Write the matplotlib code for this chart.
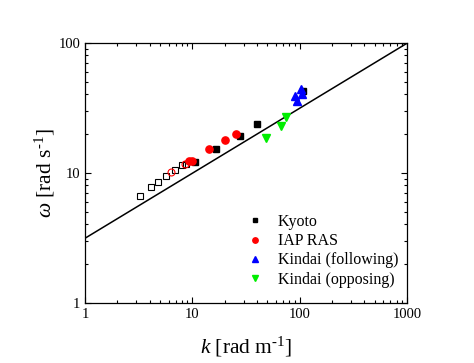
import numpy as np
import matplotlib
matplotlib.use("Agg")
import matplotlib.pyplot as plt
from matplotlib.ticker import LogLocator, NullFormatter

plt.rcParams['font.family'] = ['Liberation Serif', 'DejaVu Serif']
plt.rcParams['mathtext.fontset'] = 'custom'
plt.rcParams['mathtext.rm'] = 'Liberation Serif'
plt.rcParams['mathtext.it'] = 'Liberation Serif:italic'

# Data
kyoto_open_k = [3.26, 4.12, 4.79, 5.72, 6.83, 8.02, 8.74]
kyoto_open_w = [6.62, 7.72, 8.53, 9.43, 10.49, 11.40, 11.60]
iap_open_k = [6.33, 8.55]
iap_open_w = [10.12, 11.60]
kyoto_k = [10.6, 16.6, 27.8, 39.8, 106.4]
kyoto_w = [12.09, 15.27, 19.1, 23.8, 42.5]
iap_k = [9.32, 9.94, 14.2, 20.0, 25.7]
iap_w = [12.2, 12.37, 15.2, 18.0, 19.85]
follow_k = [90.6, 93.6, 103.0, 105.3]
follow_w = [38.7, 35.6, 44.4, 40.6]
oppose_k = [48.9, 66.4, 74.7]
oppose_w = [18.4, 22.9, 26.6]
g = 9.8
line_k = [1, 1000]

fig = plt.figure(figsize=(4.74, 3.63), dpi=100)
ax = fig.add_axes([0.1793, 0.1661, 0.6793, 0.7163])

lk = np.array(line_k, dtype=float)
ax.plot(lk, np.sqrt(g * lk), color='black', lw=1.1, zorder=1)

ax.plot(kyoto_open_k, kyoto_open_w, 's', ms=4.3, mfc='none', mec='black', mew=0.8, zorder=2)
ax.plot(iap_open_k, iap_open_w, 'o', ms=5, mfc='none', mec='#ff0000', mew=0.8, zorder=2)
ax.plot(kyoto_k, kyoto_w, 's', ms=4.5, color='black', label='Kyoto', zorder=3)
ax.plot(iap_k, iap_w, 'o', ms=5.2, color='#ff0000', label='IAP RAS', zorder=3)
ax.plot(follow_k, follow_w, '^', ms=5.5, color='#0000ff', label='Kindai (following)', zorder=3)
ax.plot(oppose_k, oppose_w, 'v', ms=5.5, color='#00ee00', label='Kindai (opposing)', zorder=3)

ax.set_xscale('log')
ax.set_yscale('log')
ax.set_xlim(1, 1000)
ax.set_ylim(1, 100)
ax.set_xticks([1, 10, 100, 1000])
ax.set_xticklabels(['1', '10', '100', '1000'])
ax.set_yticks([1, 10, 100])
ax.set_yticklabels(['1', '10', '100'])
ax.xaxis.set_minor_locator(LogLocator(base=10, subs=np.arange(2, 10)))
ax.yaxis.set_minor_locator(LogLocator(base=10, subs=np.arange(2, 10)))
ax.xaxis.set_minor_formatter(NullFormatter())
ax.yaxis.set_minor_formatter(NullFormatter())
ax.tick_params(which='both', direction='in', top=True, right=True, labelsize=10.5, width=0.8)
ax.tick_params(which='major', length=4.5)
ax.tick_params(which='minor', length=2.5)
for s in ax.spines.values():
    s.set_linewidth(0.9)

ax.set_xlabel(r'$k$ [rad m$^{\text{-1}}$]', fontsize=15.5, labelpad=10)
ax.set_ylabel(r'$\omega$ [rad s$^{\text{-1}}$]', fontsize=15.5, labelpad=1)

ax.legend(loc='lower left', bbox_to_anchor=(0.47, 0.015), frameon=False, fontsize=11.5,
          markerscale=0.75, handlelength=1.0, handletextpad=0.9, labelspacing=0.2,
          borderpad=0.2)

fig.savefig('out.png', dpi=100)
